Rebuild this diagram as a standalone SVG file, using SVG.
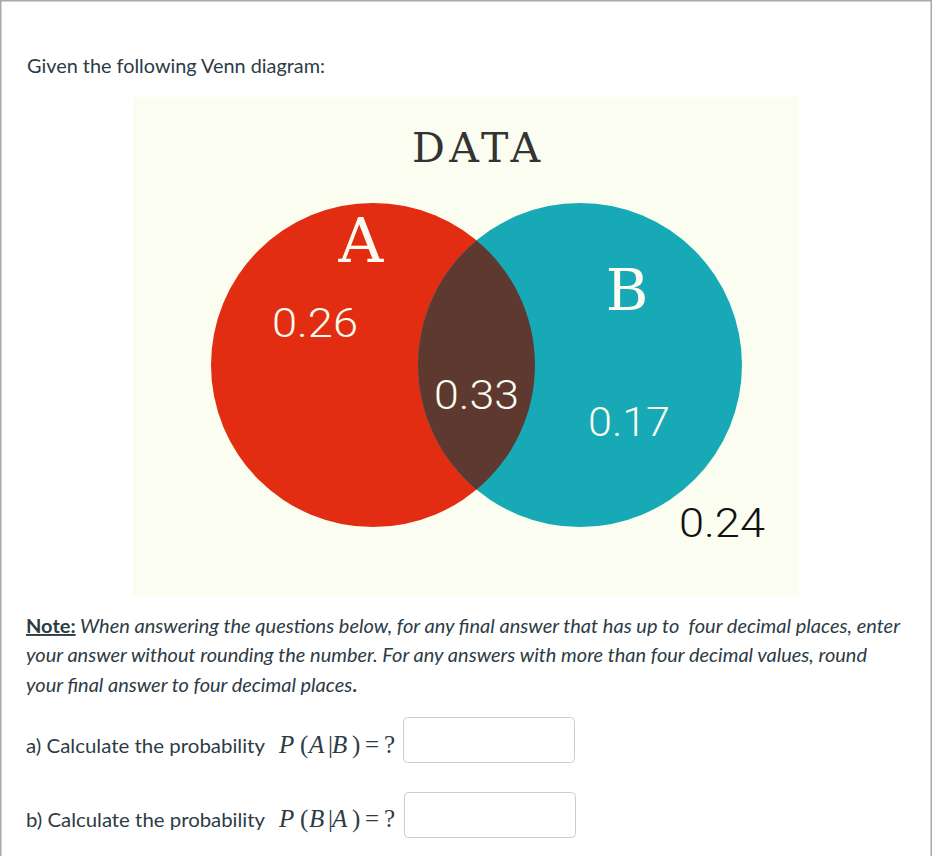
<svg xmlns="http://www.w3.org/2000/svg" width="933" height="856" viewBox="0 0 933 856">
<style>
.page{fill:#ffffff}
.frame{fill:none;stroke:#a9a9a9;stroke-width:1.5}
.body{font-family:Lato,"Liberation Sans",sans-serif;font-size:19px;fill:#2d3b45}
.it{font-style:italic}
.bold{font-weight:bold}
.num{font-family:Roboto,"Liberation Sans",Arial,sans-serif;font-size:40px;font-weight:300}
.slab{font-family:"DejaVu Serif","Liberation Serif",serif;text-anchor:middle}
.math{font-family:"Liberation Serif","Times New Roman",serif;font-size:25px;fill:#2d3b45}
.box{fill:#ffffff;stroke:#c7cdd1;stroke-width:1}
</style>
<rect class="page" x="0" y="0" width="933" height="856"/>
<path class="frame" d="M0.75,856 V0.75 H931.25 V856"/>
<text class="body" x="27" y="73" textLength="298" lengthAdjust="spacingAndGlyphs">Given the following Venn diagram:</text>

<g id="venn">
  <rect id="background" x="133" y="97" width="666" height="500" fill="#fbfdf0"/>
  <text id="title" class="slab" x="476" y="162" font-size="41" fill="#333333" textLength="128" lengthAdjust="spacing">DATA</text>
  <g id="setA">
    <circle cx="373" cy="365" r="162" fill="#e22d12"/>
  </g>
  <g id="setB">
    <circle cx="580" cy="365" r="162" fill="#17a9b6"/>
  </g>
  <g id="intersection">
    <path d="M476.5,240.4 A162,162 0 0 1 476.5,489.6 A162,162 0 0 1 476.5,240.4 Z" fill="#5e3930"/>
  </g>
  <text class="slab" x="361" y="262" font-size="62" fill="#fcfcf0">A</text>
  <text class="slab" x="627" y="310" font-size="58" fill="#fcfcf0">B</text>
  <text class="num" x="272" y="337" fill="#fcfcf0" textLength="86" lengthAdjust="spacingAndGlyphs">0.26</text>
  <text class="num" x="434" y="409" fill="#fcfcf0" textLength="85" lengthAdjust="spacingAndGlyphs">0.33</text>
  <text class="num" x="588" y="436" fill="#fcfcf0" textLength="82" lengthAdjust="spacingAndGlyphs">0.17</text>
  <text class="num" x="679" y="537" fill="#111111" textLength="86" lengthAdjust="spacingAndGlyphs">0.24</text>
</g>

<g id="note">
  <text class="body" x="26" y="633" style="white-space:pre" textLength="874" lengthAdjust="spacingAndGlyphs"><tspan class="bold" text-decoration="underline">Note:</tspan><tspan class="it"> When answering the questions below, for any final answer that has up to  four decimal places, enter</tspan></text>
  <text class="body it" x="26" y="662" textLength="841" lengthAdjust="spacingAndGlyphs">your answer without rounding the number. For any answers with more than four decimal values, round</text>
  <text class="body" x="26" y="692" textLength="331" lengthAdjust="spacingAndGlyphs"><tspan class="it">your final answer to four decimal places</tspan><tspan class="bold">.</tspan></text>
</g>

<g id="questionA">
  <text class="body" x="26" y="753" textLength="239" lengthAdjust="spacingAndGlyphs">a) Calculate the probability</text>
  <text class="math" y="753"><tspan x="279" font-style="italic">P</tspan><tspan x="300">(</tspan><tspan x="309" font-style="italic">A</tspan><tspan x="328">|</tspan><tspan x="332" font-style="italic">B</tspan><tspan x="352">)</tspan><tspan x="365">=</tspan><tspan x="384">?</tspan></text>
  <rect class="box" x="403.5" y="717.5" width="171" height="45" rx="4"/>
</g>

<g id="questionB">
  <text class="body" x="26" y="827" textLength="239" lengthAdjust="spacingAndGlyphs">b) Calculate the probability</text>
  <text class="math" y="827"><tspan x="279" font-style="italic">P</tspan><tspan x="300">(</tspan><tspan x="309" font-style="italic">B</tspan><tspan x="328">|</tspan><tspan x="332" font-style="italic">A</tspan><tspan x="352">)</tspan><tspan x="365">=</tspan><tspan x="384">?</tspan></text>
  <rect class="box" x="404.5" y="792.5" width="171" height="45" rx="4"/>
</g>
</svg>
